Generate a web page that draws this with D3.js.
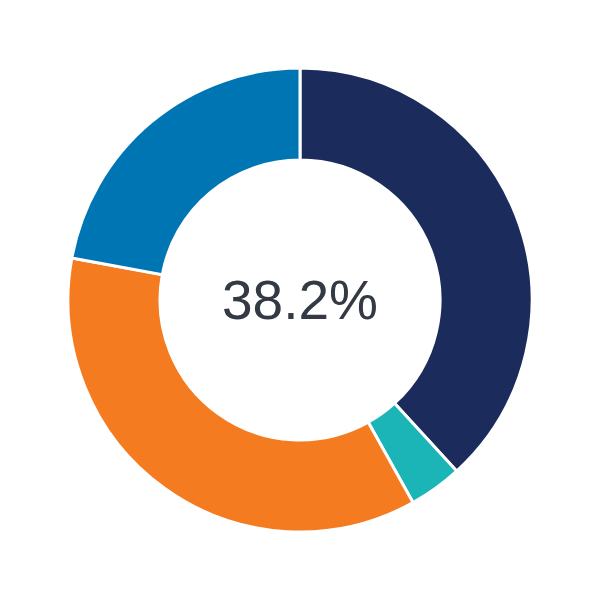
<!DOCTYPE html>
<html>
<head>
<meta charset="utf-8">
<script src="https://cdn.jsdelivr.net/npm/d3@7"></script>
<style>
  body { margin: 0; background: #fff; }
</style>
</head>
<body>
<div id="chart"></div>
<script>
const labels = ["A", "B", "C", "D"];
const values = [38.2, 3.7, 36.0, 22.1];
const colors = ["#1b2b5b", "#1bb5b7", "#f47b20", "#0075b4"];
const centerLabel = "38.2%";

const width = 600;
const height = 600;
const outerR = 232;
const innerR = 140;

const svg = d3.select("#chart").append("svg")
  .attr("width", width)
  .attr("height", height);

const g = svg.append("g")
  .attr("transform", `translate(${width / 2},${height / 2})`);

const data = labels.map((l, i) => ({ label: l, value: values[i] }));

const pie = d3.pie()
  .value(d => d.value)
  .sort(null);

const arc = d3.arc()
  .innerRadius(innerR)
  .outerRadius(outerR);

const color = d3.scaleOrdinal()
  .domain(labels)
  .range(colors);

g.selectAll("path")
  .data(pie(data))
  .enter()
  .append("path")
  .attr("d", arc)
  .attr("fill", d => color(d.data.label))
  .attr("stroke", "#fff")
  .attr("stroke-width", 3);

g.append("text")
  .attr("text-anchor", "middle")
  .attr("dy", "0.35em")
  .style("font-family", "Liberation Sans, Arial, sans-serif")
  .style("font-size", "55px")
  .style("fill", "#333a44")
  .text(centerLabel);
</script>
</body>
</html>
